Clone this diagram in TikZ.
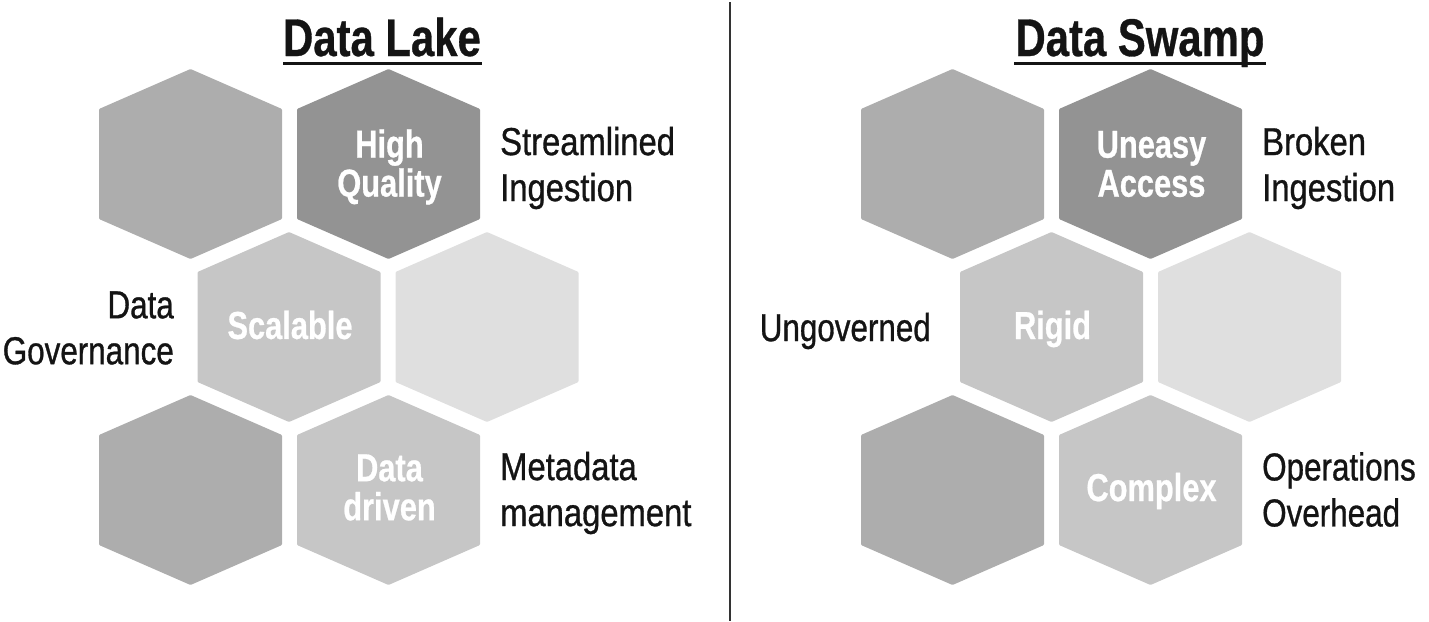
\documentclass[tikz,border=0pt]{standalone}
\usepackage{fontspec}
\setmainfont{Liberation Sans}
\newfontfamily\cnreg[FakeStretch=0.84,FakeBold=0.8]{Liberation Sans}
\newfontfamily\cnnar[FakeStretch=0.805,FakeBold=0.8]{Liberation Sans}
\newfontfamily\cnbold[FakeStretch=0.79,FakeBold=0.6]{Liberation Sans Bold}
\tikzset{
  px/.style={x=1pt,y=-1pt},
  sidelabel/.style={inner sep=0pt,text=black!92,font=\cnreg\fontsize{39}{46}\selectfont},
  narlabel/.style={sidelabel,font=\cnnar\fontsize{39}{46}\selectfont},
  hexlabel/.style={inner sep=0pt,align=center,text=white,font=\cnbold\fontsize{39}{39}\selectfont},
  titlelabel/.style={inner sep=0pt,text=black!92,font=\cnbold\fontsize{53}{54}\selectfont},
  titlerule/.style={line width=3pt,black!92},
  divider/.style={line width=1.4pt,black!80},
}
\definecolor{hexmid}{HTML}{ADADAD}
\definecolor{hexdark}{HTML}{939393}
\definecolor{hexlight}{HTML}{C6C6C6}
\definecolor{hexpale}{HTML}{DFDFDF}
% \hexa{name}{cx}{cy}{colour}{label dy}{text}
\newcommand{\hexa}[6]{%
  \fill[#4,rounded corners=1pt] (#2,#3-95) -- (#2+91.5,#3-55) -- (#2+91.5,#3+55)
     -- (#2,#3+95) -- (#2-91.5,#3+55) -- (#2-91.5,#3-55) -- cycle;
  \node[hexlabel] (#1) at (#2+1,#3+#5) {#6};
}
\begin{document}
\begin{tikzpicture}[px]
\useasboundingbox (0,0) rectangle (1429,621);
% left
\hexa{la}{190.5}{164}{hexmid}{0}{}
\hexa{lb}{388.5}{164}{hexdark}{3}{High\\Quality}
\hexa{lc}{289}{327}{hexlight}{-2}{Scalable}
\hexa{ld}{487}{327}{hexpale}{0}{}
\hexa{le}{190.5}{490}{hexmid}{0}{}
\hexa{lf}{388.5}{490}{hexlight}{-2.5}{Data\\driven}
% right
\hexa{ra}{952.5}{164}{hexmid}{0}{}
\hexa{rb}{1150.5}{164}{hexdark}{0}{Uneasy\\Access}
\hexa{rc}{1051.5}{327}{hexlight}{2}{Rigid}
\hexa{rd}{1249.5}{327}{hexpale}{0}{}
\hexa{re}{952.5}{490}{hexmid}{0}{}
\hexa{rf}{1150.5}{490}{hexlight}{1}{Complex}
% titles
\node[titlelabel,anchor=base] (tl) at (382,56) {Data Lake};
\node[titlelabel,anchor=base] (tr) at (1140,56) {Data Swamp};
\draw[titlerule] (283,63.5) -- (482,63.5);
\draw[titlerule] (1014,63.5) -- (1266,63.5);
\draw[divider] (730,2) -- (730,621);
% side labels
\node[sidelabel,anchor=west,align=left] (s1) at (500,168) {Streamlined\\Ingestion};
\node[narlabel,anchor=east,align=right] (s2) at (174,328) {Data\\Governance};
\node[sidelabel,anchor=west,align=left] (s3) at (500,493) {Metadata\\management};
\node[sidelabel,anchor=west,align=left] (s4) at (1262,168) {Broken\\Ingestion};
\node[narlabel,anchor=east] (s5) at (931,331) {Ungoverned};
\node[narlabel,anchor=west,align=left] (s6) at (1262,489.5) {Operations\\Overhead};
\end{tikzpicture}
\end{document}
